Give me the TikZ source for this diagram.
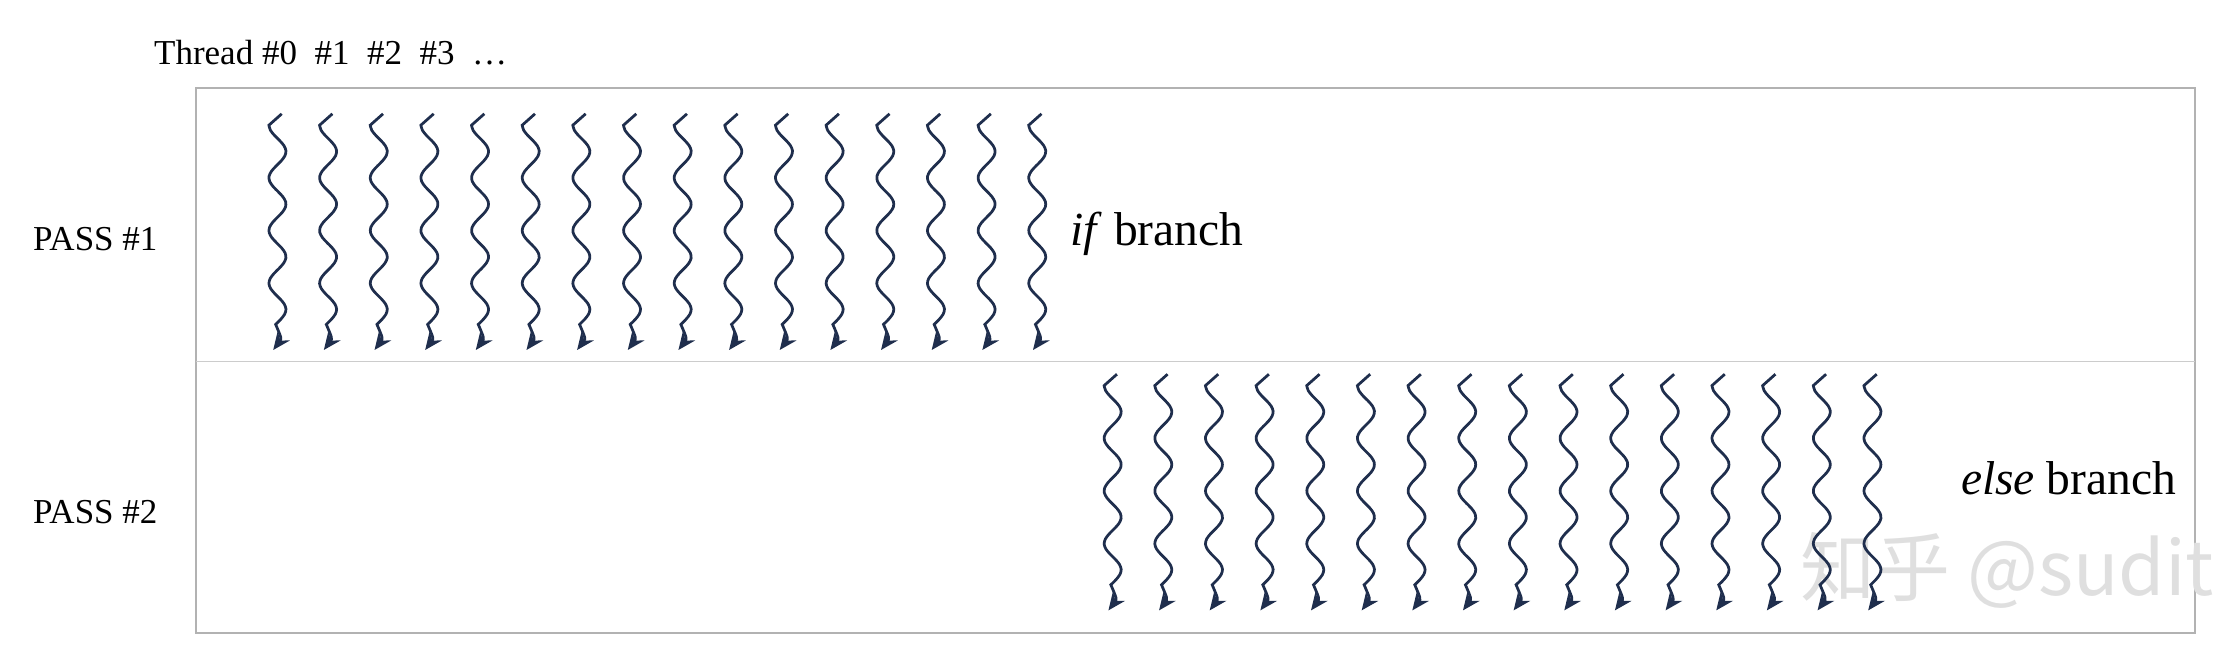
\documentclass[tikz,border=0pt]{standalone}
\usepackage{fontspec}
\setmainfont{Liberation Serif}
\newfontfamily\cjk{Noto Sans CJK SC}
\usetikzlibrary{arrows.meta}
\definecolor{navy}{HTML}{1F2E4D}
\tikzset{thr/.style={navy, line width=1.1pt, -{Stealth[length=7pt,width=6pt]}},
 lbl/.style={font=\fontsize{14}{16}\selectfont, anchor=west, inner sep=0},
 big/.style={font=\fontsize{19}{22}\selectfont, anchor=west, inner sep=0}}
\begin{document}
\begin{tikzpicture}[x=0.02cm,y=-0.02cm]
\useasboundingbox (0,0) rectangle (1568,463);
\draw[gray!60, line width=0.8pt] (138,62) rectangle (1543,445);
\draw[gray!40, line width=0.6pt] (138,254) -- (1543,254);
\node[lbl] (th) at (108,37) {Thread \#0\enspace\#1\enspace\#2\enspace\#3\enspace…};
\node[lbl] (p1) at (23,168) {PASS \#1};
\node[lbl] (p2) at (23,360) {PASS \#2};
\node[big] (ifb) at (752,164) {\textit{if} branch};
\node[big] (elb) at (1378,336) {\textit{else} branch};
\node[anchor=west, inner sep=0, text=gray!25, font=\cjk\fontsize{30}{32}\selectfont] (wm) at (1265,401) {知乎 @sudit};
\foreach \xs/\tp in {195/80, 782/263}{
 \foreach \i in {0,...,15}{
  \pgfmathsetmacro{\xo}{\xs+\i*35.6-6}
  \draw[thr] (\xo+9,\tp) -- plot[smooth, domain=8:148, samples=40, variable=\s] ({\xo-6*cos(9.73*(\s-8))+6},{\tp+\s}) .. controls (\xo+9,\tp+158) .. (\xo+3,\tp+166);
 }
}
\end{tikzpicture}
\end{document}
